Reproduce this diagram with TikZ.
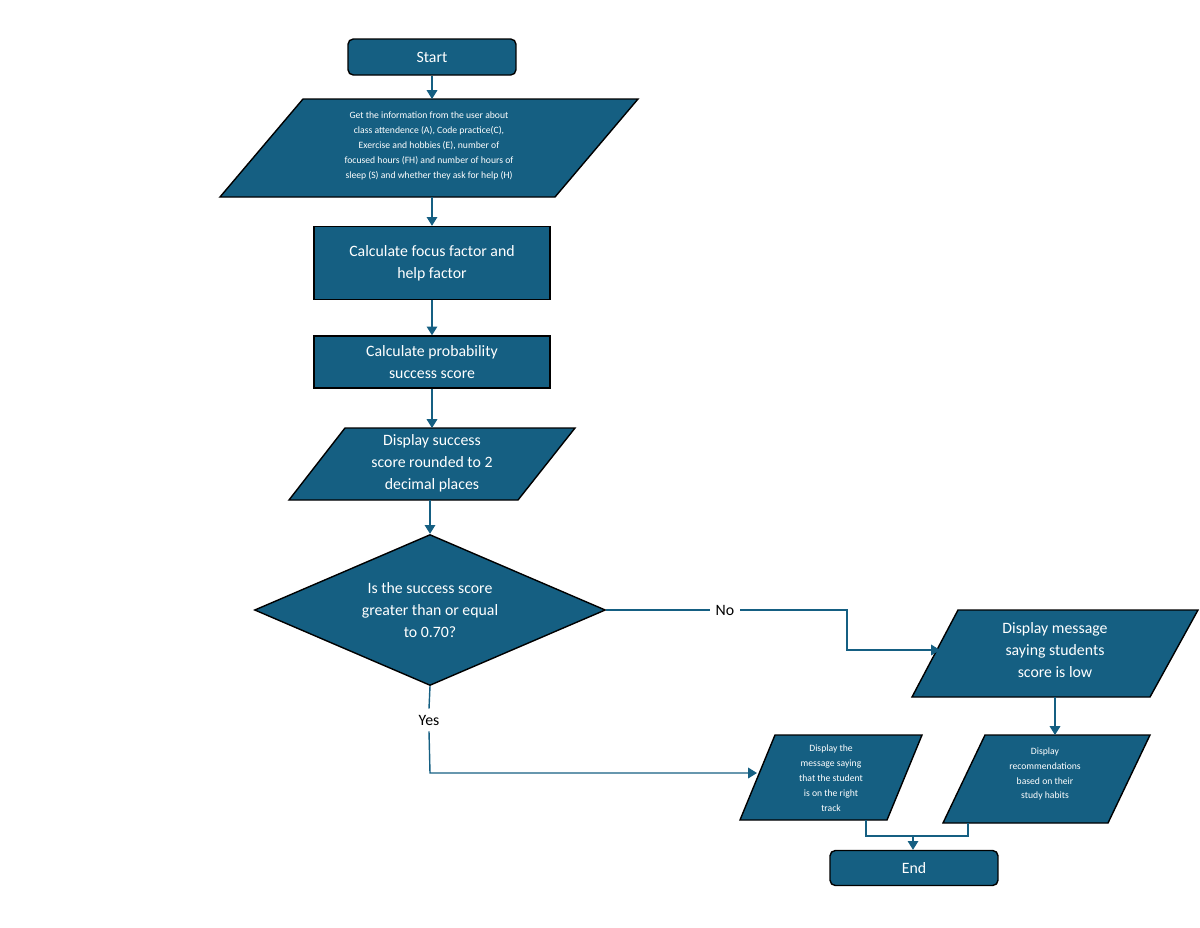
\documentclass[tikz,border=0pt]{standalone}
\usepackage{fontspec}
\setmainfont{Carlito}
\usetikzlibrary{arrows.meta,calc,positioning,shapes.geometric}
\definecolor{flow}{HTML}{155F82}
\tikzset{
        block/.style = {draw=black, fill=flow, text=white, thick, align=center},
        term/.style = {block, rounded corners=3pt, minimum width=3.36cm, minimum height=0.72cm},
        proc/.style = {block, minimum width=4.72cm},
        io/.style = {draw=black, fill=flow, thick},
        txt/.style = {text=white, align=center},
        dec/.style = {block, diamond, aspect=2.32, minimum width=7.02cm, inner sep=0pt},
        arrow/.style = {draw=flow, thick, -{Triangle[length=5pt,width=6pt]}},
        line/.style = {draw=flow, thick},
        big/.style = {font=\fontsize{9}{12.5}\selectfont},
        small/.style = {font=\fontsize{5.5}{8.5}\selectfont},
    }

\begin{document}
\begin{tikzpicture}[x=0.02cm,y=-0.02cm]
    \useasboundingbox (0,0) rectangle (1200,927);

    \node[term, big] (start) at (432,57) {Start};

    % input parallelogram
    \draw[io] (303,99) -- (638,99) -- (555,197) -- (220,197) -- cycle;
    \node[txt, small] (info) at (429,146) {Get the information from the user about\\
        class attendence (A), Code practice(C),\\ Exercise and hobbies (E), number of\\
        focused hours (FH) and number of hours of\\ sleep (S) and whether they ask for help (H)};
    \coordinate (infotop) at (432,99);
    \coordinate (infobot) at (432,197);

    \node[proc, big, minimum height=1.46cm] (focus) at (432,263) {Calculate focus factor and\\ help factor};
    \node[proc, big, minimum height=1.04cm] (prob) at (432,362) {Calculate probability\\ success score};

    \draw[io] (345,428) -- (575,428) -- (518,500) -- (289,500) -- cycle;
    \node[txt, big] (show) at (432,463) {Display success\\ score rounded to 2\\ decimal places};
    \coordinate (showtop) at (432,428);
    \coordinate (showbot) at (430,500);

    \node[dec, big, minimum height=3.02cm] (check) at (430,610) {Is the success score\\ greater than or equal\\ to 0.70?};

    \draw[io] (958,610) -- (1198,610) -- (1150,697) -- (912,697) -- cycle;
    \node[txt, big] (low) at (1055,650) {Display message\\ saying students\\ score is low};
    \coordinate (lowleft) at (940,650);
    \coordinate (lowbot) at (1055,697);

    \draw[io] (775,735) -- (922,735) -- (887,820) -- (740,820) -- cycle;
    \node[txt, small] (track) at (831,778) {Display the\\ message saying\\ that the student\\ is on the right\\ track};
    \coordinate (trackleft) at (757,773);
    \coordinate (trackbot) at (866,820);

    \draw[io] (985,735) -- (1150,735) -- (1108,823) -- (943,823) -- cycle;
    \node[txt, small] (tips) at (1045,774) {Display\\ recommendations\\ based on their\\ study habits};
    \coordinate (tipstop) at (1055,735);
    \coordinate (tipsbot) at (968,823);

    \node[term, big, minimum height=0.7cm] (end) at (914,868) {End};

    % connectors
    \draw[arrow] (start) -- (infotop);
    \draw[arrow] (infobot) -- (focus);
    \draw[arrow] (focus) -- (prob);
    \draw[arrow] (prob.south -| showtop) -- (showtop);
    \draw[arrow] (showbot) -- (check.north);

    \node[big] (no) at (725,610) {No};
    \draw[line] (check.east) -- (no.west);
    \draw[arrow] (no.east) -- (847,610) -- (847,650) -- (lowleft);

    \node[big] (yes) at (429,720) {Yes};
    \draw[line] (check.south) -- (yes.north);
    \draw[arrow] (yes.south) -- (430,773) -- (trackleft);

    \draw[arrow] (lowbot) -- (tipstop);
    \draw[line] (trackbot) -- (866,836) -- (968,836) -- (tipsbot);
    \draw[arrow] (913,836) -- (end.north -| 913,0);
\end{tikzpicture}
\end{document}
